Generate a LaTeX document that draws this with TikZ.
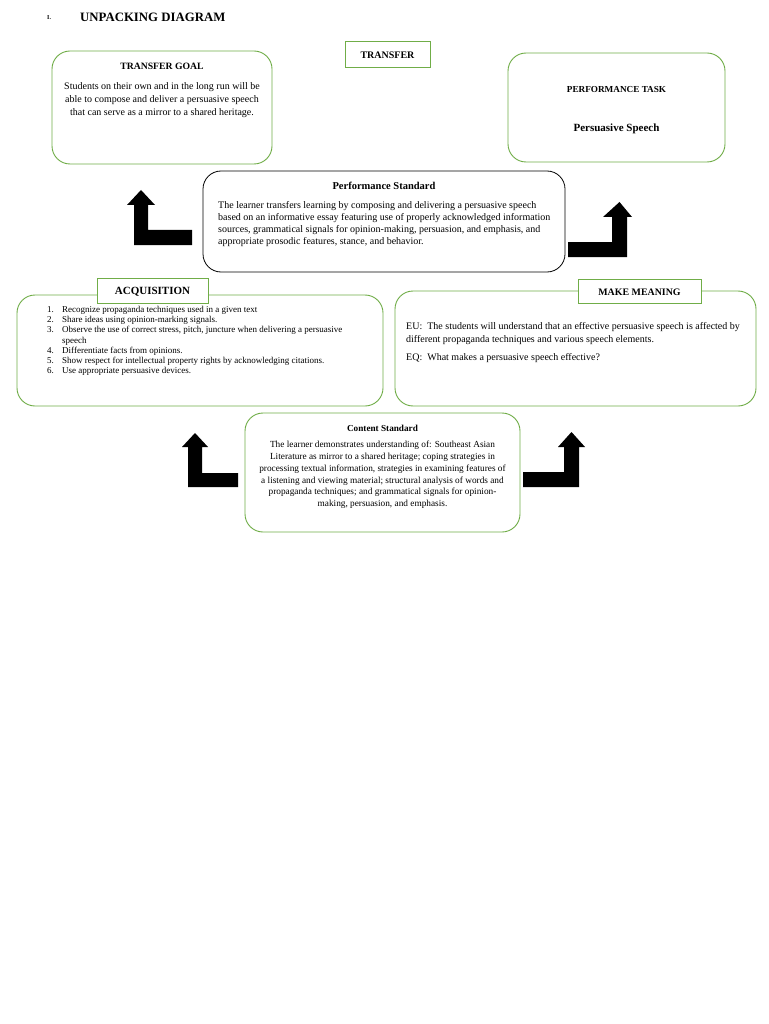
\documentclass[tikz,border=0pt]{standalone}
\usepackage{fontspec}
\setmainfont{Liberation Serif}
\definecolor{boxgreen}{RGB}{112,173,71}
\begin{document}
\begin{tikzpicture}[x=1pt,y=-1pt,
  gbox/.style={draw=boxgreen,line width=0.9pt,rounded corners=18pt,fill=white},
  kbox/.style={draw=black,line width=0.8pt,rounded corners=18pt,fill=white},
  tbox/.style={draw=boxgreen,line width=0.9pt,fill=white},
  ttl/.style={font=\fontsize{9.7}{11}\selectfont\bfseries,inner sep=0pt},
  txt/.style={font=\fontsize{10}{13}\selectfont,inner sep=0pt},
  bentarrow/.style={fill=black,draw=none}]
\useasboundingbox (0,0) rectangle (768,1024);
\fill[white] (0,0) rectangle (768,1024);

% heading
\node[font=\fontsize{6}{7}\selectfont\bfseries,anchor=west,inner sep=0pt] (num) at (47,17.5) {I.};
\node[font=\fontsize{12.8}{14}\selectfont\bfseries,anchor=west,inner sep=0pt] (head) at (80,17) {UNPACKING DIAGRAM};

% transfer goal
\draw[gbox] (52,51) rectangle (272,164);
\node[ttl] (tgt) at (162,66) {TRANSFER GOAL};
\node[txt,align=center] (tgx) at (162,100.5) {Students on their own and in the long run will be\\able to compose and deliver a persuasive speech\\that can serve as a mirror to a shared heritage.};

% transfer label
\draw[tbox] (345,41) rectangle (430,67);
\node[ttl,font=\fontsize{10}{11}\selectfont\bfseries] (tr) at (387.5,55) {TRANSFER};

% performance task
\draw[gbox] (508,53) rectangle (725,162);
\node[ttl,font=\fontsize{9.2}{10}\selectfont\bfseries] (ptt) at (616.5,89.5) {PERFORMANCE TASK};
\node[ttl,font=\fontsize{11}{12}\selectfont\bfseries] (pts) at (616.5,128.5) {Persuasive Speech};

% performance standard
\draw[kbox] (203,171) rectangle (565,272);
\node[ttl,font=\fontsize{10.5}{12}\selectfont\bfseries] (pst) at (384,186) {Performance Standard};
\node[txt,font=\fontsize{10}{12}\selectfont,align=left,anchor=west] (psx) at (218,224.5) {The learner transfers learning by composing and delivering a persuasive speech\\based on an informative essay featuring use of properly acknowledged information\\sources, grammatical signals for opinion-making, persuasion, and emphasis, and\\appropriate prosodic features, stance, and behavior.};

% bent arrows upper
\fill[bentarrow] (141,190) -- (155,205) -- (148,205) -- (148,230) -- (192,230) -- (192,245) -- (134,245) -- (134,205) -- (127,205) -- cycle;
\fill[bentarrow] (619.5,202) -- (632,217) -- (627,217) -- (627,257) -- (568,257) -- (568,242) -- (612,242) -- (612,217) -- (603,217) -- cycle;

% acquisition
\draw[gbox] (17,295) rectangle (383,406);
\draw[tbox] (97,278) rectangle (208,303);
\node[ttl,font=\fontsize{11}{12}\selectfont\bfseries] (acqt) at (152.5,291.5) {ACQUISITION};
\node[txt,font=\fontsize{9}{10.2}\selectfont,align=left,anchor=west] (acqx) at (47,341) {\makebox[15pt][l]{1.}Recognize propaganda techniques used in a given text\\
\makebox[15pt][l]{2.}Share ideas using opinion-marking signals.\\
\makebox[15pt][l]{3.}Observe the use of correct stress, pitch, juncture when delivering a persuasive\\
\makebox[15pt][l]{}speech\\
\makebox[15pt][l]{4.}Differentiate facts from opinions.\\
\makebox[15pt][l]{5.}Show respect for intellectual property rights by acknowledging citations.\\
\makebox[15pt][l]{6.}Use appropriate persuasive devices.};

% make meaning
\draw[gbox] (395,291) rectangle (756,406);
\draw[tbox] (578,279) rectangle (701,303);
\node[ttl,font=\fontsize{9.9}{11}\selectfont\bfseries] (mmt) at (639.5,292) {MAKE MEANING};
\node[txt,align=left,anchor=west] (mmeu) at (406,333.5) {EU:\ \ The students will understand that an effective persuasive speech is affected by\\different propaganda techniques and various speech elements.};
\node[txt,anchor=west] (mmeq) at (406,358.5) {EQ:\ \ What makes a persuasive speech effective?};

% content standard
\draw[gbox] (245,413) rectangle (520,532);
\node[ttl,font=\fontsize{9.2}{11}\selectfont\bfseries] (cst) at (382.5,428) {Content Standard};
\node[txt,font=\fontsize{9.3}{11.8}\selectfont,align=center] (csx) at (382.5,475) {The learner demonstrates understanding of: Southeast Asian\\Literature as mirror to a shared heritage; coping strategies in\\processing textual information, strategies in examining features of\\a listening and viewing material; structural analysis of words and\\propaganda techniques; and grammatical signals for opinion-\\making, persuasion, and emphasis.};

% bent arrows lower
\fill[bentarrow] (195,433) -- (208,447) -- (202,447) -- (202,473) -- (238,473) -- (238,487) -- (188,487) -- (188,447) -- (182,447) -- cycle;
\fill[bentarrow] (571.5,432) -- (585,447) -- (579,447) -- (579,487) -- (523,487) -- (523,472) -- (564,472) -- (564,447) -- (558,447) -- cycle;
\end{tikzpicture}
\end{document}
